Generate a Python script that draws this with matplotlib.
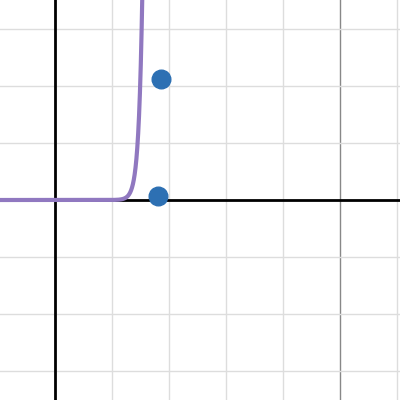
import numpy as np
import matplotlib
matplotlib.use("Agg")
import matplotlib.pyplot as plt

pts_x = [1.86, 1.81]
pts_y = [2.12, 0.07]
curve_a = 3.5 * np.exp(-15.5 * 1.53)
curve_b = 15.5

fig = plt.figure(figsize=(4, 4), dpi=100)
ax = fig.add_axes([0, 0, 1, 1])
xmin, xmax = -55/57, 345/57
ymin, ymax = -200/57, 200/57
ax.set_xlim(xmin, xmax); ax.set_ylim(ymin, ymax)
for v in range(-1, 7):
    ax.axvline(v, color="#888888" if v == 5 else "#dddddd", lw=1, zorder=0)
for v in range(-4, 5):
    ax.axhline(v, color="#dddddd", lw=1, zorder=0)
ax.axhline(0, color="black", lw=2, zorder=1)
ax.axvline(0, color="black", lw=2, zorder=1)
x = np.linspace(xmin, 1.6, 2000)
ax.plot(x, curve_a*np.exp(curve_b*x), color="#9078c0", lw=3, zorder=2)
ax.scatter(pts_x, pts_y, s=180, color="#2d70b3", zorder=3)
ax.axis("off")
fig.savefig("out.png", dpi=100)
